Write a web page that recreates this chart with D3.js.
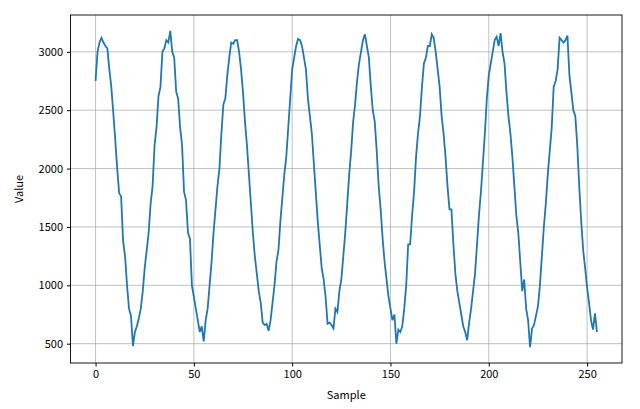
<html>
<head>
<script src="https://d3js.org/d3.v7.min.js"></script>
<style>
  body { margin: 0; background: #fff; }
  text { font-family: "Noto Sans CJK SC", "DejaVu Sans", sans-serif; }
</style>
</head>
<body>
<div id="vis"></div>
<script>
// Sample values, sample index = position in the array
var values = [
  2750, 3000, 3080, 3120, 3080, 3050, 3030, 2850, 2700, 2480,
  2250, 2000, 1790, 1760, 1380, 1250, 1000, 800, 740, 480,
  600, 650, 720, 800, 950, 1150, 1300, 1450, 1700, 1850,
  2200, 2350, 2620, 2700, 3000, 3030, 3100, 3080, 3180, 3000,
  2950, 2660, 2600, 2350, 2200, 1800, 1730, 1450, 1400, 1000,
  900, 800, 700, 600, 650, 520, 700, 800, 1000, 1200,
  1450, 1650, 1850, 2000, 2300, 2550, 2600, 2800, 2950, 3080,
  3070, 3100, 3100, 3000, 2850, 2650, 2400, 2200, 1950, 1700,
  1450, 1250, 1100, 950, 850, 680, 660, 670, 610, 700,
  850, 1000, 1200, 1300, 1550, 1750, 1950, 2100, 2350, 2600,
  2850, 2950, 3050, 3110, 3100, 3050, 2950, 2850, 2600, 2450,
  2300, 2050, 1800, 1550, 1350, 1150, 1050, 900, 670, 680,
  660, 630, 800, 770, 950, 1050, 1250, 1450, 1700, 1950,
  2150, 2400, 2550, 2750, 2900, 3000, 3100, 3150, 3050, 2950,
  2700, 2500, 2400, 2150, 1850, 1650, 1400, 1200, 1050, 900,
  800, 700, 750, 500, 620, 600, 650, 800, 1000, 1350,
  1350, 1600, 1800, 2100, 2300, 2450, 2700, 2900, 2950, 3050,
  3050, 3150, 3120, 3000, 2850, 2700, 2450, 2300, 2100, 1850,
  1650, 1650, 1350, 1100, 950, 850, 750, 650, 600, 530,
  680, 800, 950, 1100, 1350, 1600, 1800, 2050, 2300, 2600,
  2800, 2900, 3000, 3100, 3130, 3050, 3160, 3000, 2900, 2650,
  2450, 2300, 2100, 1850, 1600, 1450, 1200, 950, 1050, 800,
  700, 470, 630, 660, 740, 820, 1000, 1250, 1500, 1700,
  1950, 2150, 2350, 2700, 2750, 2850, 3120, 3100, 3080, 3100,
  3140, 2800, 2650, 2500, 2450, 2200, 1850, 1550, 1300, 1150,
  980, 850, 700, 620, 760, 600
]
var xTicks = [0, 50, 100, 150, 200, 250]
var yTicks = [500, 1000, 1500, 2000, 2500, 3000]

var margin = {top: 15, right: 18, bottom: 46, left: 70.5}
var width = 640 - margin.left - margin.right
var height = 409 - margin.top - margin.bottom

var svg = d3.select("#vis").append("svg")
  .attr("width", 640).attr("height", 409)
var g = svg.append("g")
  .attr("transform", "translate(" + margin.left + "," + margin.top + ")")

// matplotlib style 5% margins
var n = values.length - 1
var x = d3.scaleLinear().domain([-n * 0.05, n * 1.05]).range([0, width])
var lo = d3.min(values), hi = d3.max(values), pad = (hi - lo) * 0.05
var y = d3.scaleLinear().domain([lo - pad, hi + pad]).range([height, 0])

// grid
g.selectAll(".gx").data(xTicks).enter().append("line")
  .attr("x1", d => x(d)).attr("x2", d => x(d))
  .attr("y1", 0).attr("y2", height)
  .attr("stroke", "#b0b0b0").attr("stroke-width", 0.8)
g.selectAll(".gy").data(yTicks).enter().append("line")
  .attr("y1", d => y(d)).attr("y2", d => y(d))
  .attr("x1", 0).attr("x2", width)
  .attr("stroke", "#b0b0b0").attr("stroke-width", 0.8)

g.append("path")
  .datum(values)
  .attr("fill", "none")
  .attr("stroke", "#1f77b4")
  .attr("stroke-width", 1.8)
  .attr("d", d3.line().x((d, i) => x(i)).y(d => y(d)))

var xa = g.append("g").attr("transform", "translate(0," + height + ")")
  .call(d3.axisBottom(x).tickValues(xTicks).tickFormat(d3.format("d")).tickSize(3.5).tickPadding(4))
var ya = g.append("g")
  .call(d3.axisLeft(y).tickValues(yTicks).tickFormat(d3.format("d")).tickSize(3.5).tickPadding(4))
;[xa, ya].forEach(a => {
  a.select(".domain").remove()
  a.selectAll("text").attr("font-size", 11).attr("fill", "#000")
    .style("font-family", '"Noto Sans CJK SC", sans-serif')
})

g.append("rect").attr("width", width).attr("height", height)
  .attr("fill", "none").attr("stroke", "#000").attr("stroke-width", 0.9)

g.append("text").text("Sample")
  .attr("x", width / 2).attr("y", height + 36)
  .attr("text-anchor", "middle").attr("font-size", 11)
g.append("text").text("Value")
  .attr("transform", "translate(-48," + height / 2 + ") rotate(-90)")
  .attr("text-anchor", "middle").attr("font-size", 11)
</script>
</body>
</html>
